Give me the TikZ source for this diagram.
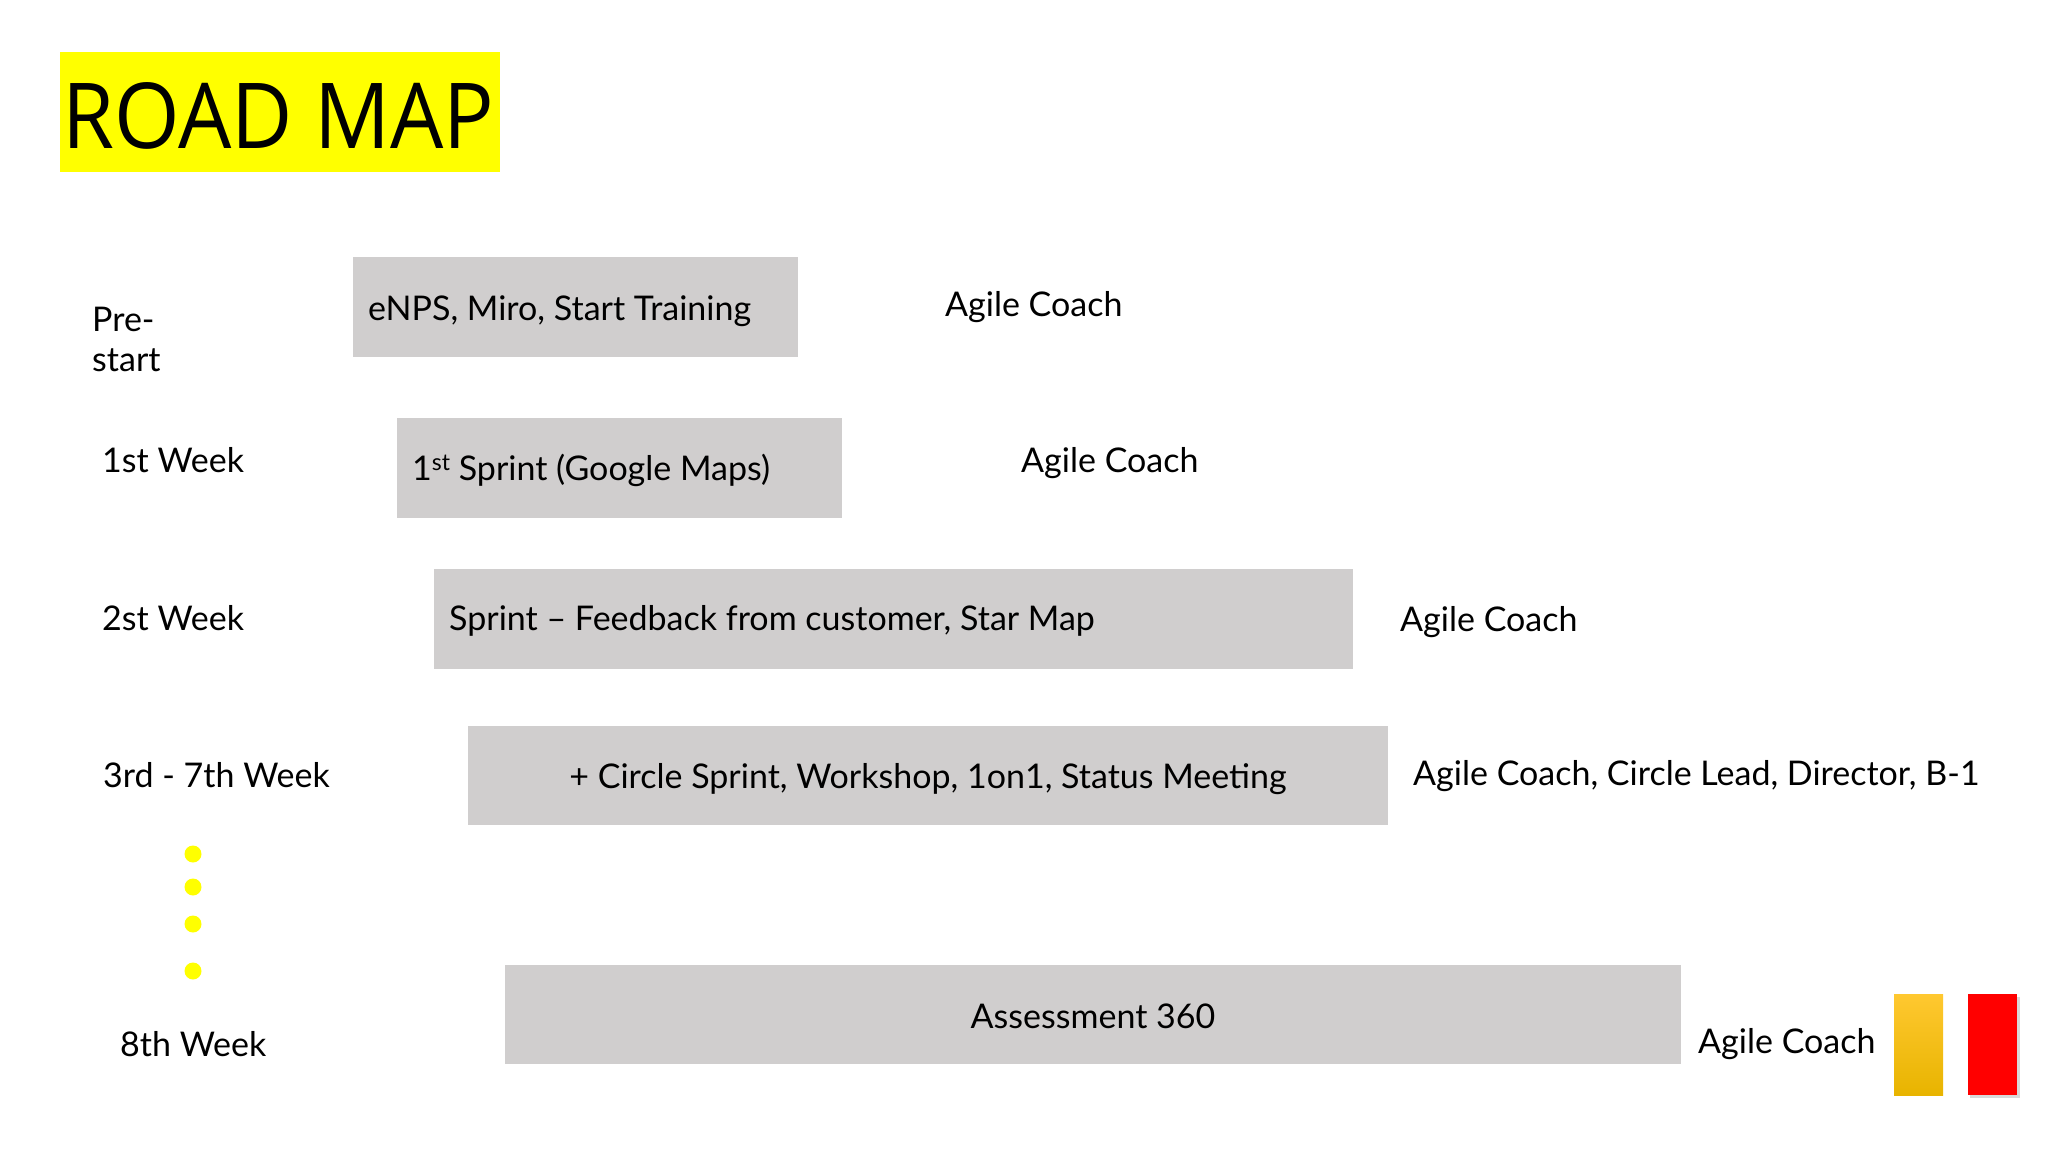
\documentclass[tikz,border=0pt]{standalone}
\usepackage{fontspec}
\setmainfont{Lato}
\newfontfamily\titlefont{Open Sans}
\definecolor{bargray}{RGB}{208,206,206}
\definecolor{titleyellow}{RGB}{255,255,0}
\definecolor{dotyellow}{RGB}{255,255,0}
\definecolor{goldtop}{RGB}{255,200,48}
\definecolor{goldbot}{RGB}{232,180,0}
\definecolor{redbar}{RGB}{255,0,0}
\tikzset{
  bar/.style={fill=bargray, draw=none},
  txt/.style={inner sep=0pt, font=\fontsize{34}{41}\selectfont, text=black},
  ydot/.style={circle, fill=dotyellow, inner sep=0pt, minimum size=17pt},
}
\begin{document}
\begin{tikzpicture}[x=1pt,y=-1pt]
\useasboundingbox[fill=white] (0,0) rectangle (2048,1152);
% title
\fill[titleyellow] (60,52) rectangle (500,172);
\node[inner sep=0pt, anchor=base west, font=\titlefont\fontsize{91}{100}\selectfont] (title) at (62,148) {\scalebox{0.925}[1]{ROAD MAP}};
% bars
\fill[bar] (353,257) rectangle (798,357);
\fill[bar] (397,418) rectangle (842,518);
\fill[bar] (434,569) rectangle (1353,669);
\fill[bar] (468,726) rectangle (1388,825);
\fill[bar] (505,965) rectangle (1681,1064);
% row 1
\node[txt, anchor=base west] (pre1) at (92,331) {Pre-};
\node[txt, anchor=base west] (pre2) at (92,371) {start};
\node[txt, anchor=base west] (t1) at (368,320) {eNPS, Miro, Start Training};
\node[txt, anchor=base west] (c1) at (945,316) {Agile Coach};
% row 2
\node[txt, anchor=base west] (w1) at (102,472) {1st Week};
\node[txt, anchor=base west] (t2) at (412,480) {1\raisebox{0.55ex}{\fontsize{23}{25}\selectfont st} Sprint (Google Maps)};
\node[txt, anchor=base west] (c2) at (1021,472) {Agile Coach};
% row 3
\node[txt, anchor=base west] (w2) at (102,630) {2st Week};
\node[txt, anchor=base west] (t3) at (449,630) {Sprint – Feedback from customer, Star Map};
\node[txt, anchor=base west] (c3) at (1400,631) {Agile Coach};
% row 4
\node[txt, anchor=base west] (w3) at (103,787) {3rd - 7th Week};
\node[txt, anchor=base] (t4) at (928,788) {+ Circle Sprint, Workshop, 1on1, Status Meeting};
\node[txt, anchor=base west] (c4) at (1413,785) {Agile Coach, Circle Lead, Director, B-1};
% dots
\node[ydot] (d1) at (193,854) {};
\node[ydot] (d2) at (193,887) {};
\node[ydot] (d3) at (193,924) {};
\node[ydot] (d4) at (193,971) {};
% row 5
\node[txt, anchor=base west] (w5) at (120,1056) {8th Week};
\node[txt, anchor=base] (t5) at (1093,1028) {Assessment 360};
\node[txt, anchor=base west] (c5) at (1698,1053) {Agile Coach};
% colour bars
\shade[top color=goldtop, bottom color=goldbot] (1894,994) rectangle (1943,1095);
\fill[black, opacity=0.15] (1970,997) rectangle (2020,1098);
\fill[redbar] (1968,994) rectangle (2017,1095);
\end{tikzpicture}
\end{document}
